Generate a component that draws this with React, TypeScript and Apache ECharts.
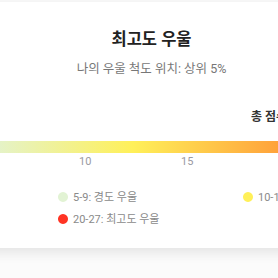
import React, { useEffect, useRef } from 'react';
import * as echarts from 'echarts';

const levelNames = ['5-9: 경도 우울', '10-14: 중등도 우울', '15-19: 중등고도 우울', '20-27: 최고도 우울'];
const levelColors = ['#e2f3d4', '#fff059', '#ffa03a', '#ff3424'];
const scaleStart = [5];
const scaleSpan = [22];
const axisMin = 0;
const axisMax = 27;
const tickInterval = 5;
const titleText = '최고도 우울';
const subtitleText = '나의 우울 척도 위치: 상위 5%';
const scoreLabel = '총 점수: 22점';

const FONT = 'Roboto, "Noto Sans CJK KR", sans-serif';

export default function App() {
  const ref = useRef<HTMLDivElement>(null);
  useEffect(() => {
    if (!ref.current) return;
    const chart = echarts.init(ref.current, undefined, { renderer: 'svg' });
    const n = levelColors.length;
    const gradient = new echarts.graphic.LinearGradient(
      0, 0, 1, 0,
      levelColors.map((c, i) => ({ offset: i / (n - 1), color: c }))
    );
    chart.setOption({
      animation: false,
      textStyle: { fontFamily: FONT },
      grid: { left: -118.4, right: -153.6, top: 139, height: 12, outerBoundsMode: 'none' },
      xAxis: {
        type: 'value', min: axisMin, max: axisMax, interval: tickInterval,
        axisLine: { show: false }, axisTick: { show: false }, splitLine: { show: false },
        axisLabel: { color: '#9a9aa2', fontSize: 11, margin: 3, fontFamily: FONT },
      },
      yAxis: { type: 'category', data: ['score'], show: false },
      legend: {
        data: levelNames.map((name) => ({ name, icon: 'circle' })),
        left: 58, top: 189, width: 560, padding: 0,
        itemWidth: 10, itemHeight: 10, itemGap: 10,
        textStyle: { color: '#8a8a8a', fontSize: 11, width: 160, lineHeight: 12, fontFamily: FONT },
      },
      graphic: [
        { type: 'text', x: 151.5, y: 37, style: { text: titleText, fill: '#222', font: `bold 16.5px ${FONT}`, align: 'center', verticalAlign: 'middle' } },
        { type: 'text', x: 151.5, y: 66, style: { text: subtitleText, fill: '#777', font: `12.5px ${FONT}`, align: 'center', verticalAlign: 'middle' } },
        { type: 'text', x: 251, y: 115, style: { text: scoreLabel, fill: '#333', font: `bold 12px ${FONT}`, align: 'left', verticalAlign: 'middle' } },
      ],
      series: [
        { type: 'bar', stack: 'scale', data: scaleStart, barWidth: '100%', itemStyle: { color: 'transparent' }, silent: true },
        { type: 'bar', stack: 'scale', data: scaleSpan, barWidth: '100%', itemStyle: { color: gradient } },
        ...levelNames.map((name, i) => ({ type: 'scatter', name, data: [], itemStyle: { color: levelColors[i], opacity: 1 } })),
      ],
    });
    return () => chart.dispose();
  }, []);
  return (
    <div style={{ position: 'fixed', left: 0, top: 0, width: 278, height: 278, overflow: 'hidden', background: '#fbfbfb' }}>
      <div style={{ position: 'absolute', top: 2, left: -20, width: 330, height: 246, background: '#fff', boxShadow: '0 4px 12px rgba(0,0,0,0.1)' }} />
      <div ref={ref} style={{ position: 'absolute', top: 2, left: 0, width: 278, height: 246 }} />
    </div>
  );
}
